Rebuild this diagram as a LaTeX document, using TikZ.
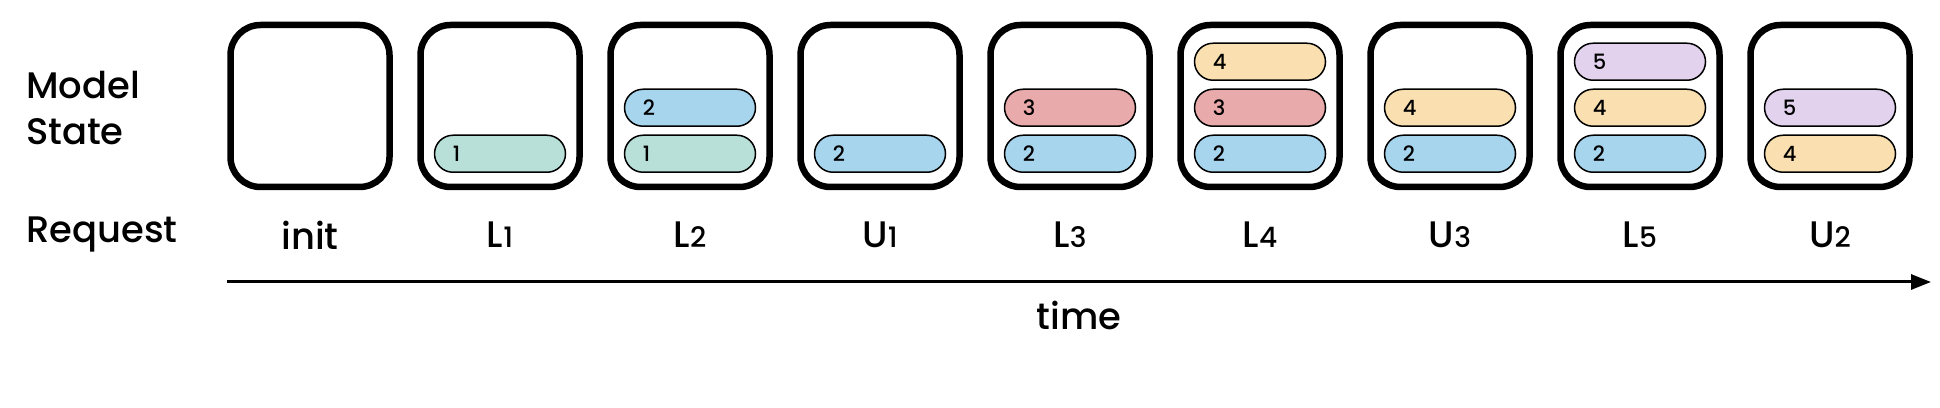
\documentclass[tikz,border=0pt]{standalone}
\usepackage{fontspec}
\setmainfont{Poppins}[UprightFont=* Medium]
\definecolor{xgreen}{HTML}{B8DFD8}
\definecolor{xblue}{HTML}{A8D5EE}
\definecolor{xred}{HTML}{E8AAAA}
\definecolor{xyellow}{HTML}{FAE0B0}
\definecolor{xpurple}{HTML}{E2D2EE}
\newcommand{\sm}[1]{{\fontsize{16}{16}\selectfont #1}}
\usetikzlibrary{shapes.misc,arrows.meta}
\tikzset{
  state/.style={draw, line width=1.3mm, rounded corners=6mm, minimum width=31.8mm, minimum height=32.4mm},
  pill/.style={draw, line width=0.3mm, rounded rectangle, minimum width=26.2mm, minimum height=7.4mm, inner sep=0pt},
  lbl/.style={font=\fontsize{21}{26}\selectfont},
}
\newcommand{\putpill}[4]{% box, row, colour, number
  \node[pill, fill=#3] (p#1r#2) at ([yshift=-8.0mm-(#2-1)*9.2mm]box#1.north) {};
  \node[font=\fontsize{12}{12}\selectfont, anchor=west] (n#1r#2) at ([xshift=2.6mm]p#1r#2.west) {#4};
}
\begin{document}
\begin{tikzpicture}[x=0.2mm, y=-0.2mm]
  \useasboundingbox (0,0) rectangle (1940,408);
  \def \p {190}
  % state boxes and request labels
  \foreach \i/\r in {0/init, 1/L\sm{1}, 2/L\sm{2}, 3/U\sm{1}, 4/L\sm{3}, 5/L\sm{4}, 6/U\sm{3}, 7/L\sm{5}, 8/U\sm{2}} {
    \node[state] (box\i) at (310+\i*\p, 106) {};
    \node[lbl] (req\i) at (310+\i*\p, 235) {\r};
  }
  \node[lbl, anchor=west, align=left] (model) at (20, 108) {Model\\State};
  \node[lbl, anchor=west] (request) at (20, 235) {Request};
  % stacked entries, bottom row = 3
  \putpill{1}{3}{xgreen}{1}
  \putpill{2}{3}{xgreen}{1}
  \putpill{2}{2}{xblue}{2}
  \putpill{3}{3}{xblue}{2}
  \putpill{4}{3}{xblue}{2}
  \putpill{4}{2}{xred}{3}
  \putpill{5}{3}{xblue}{2}
  \putpill{5}{2}{xred}{3}
  \putpill{5}{1}{xyellow}{4}
  \putpill{6}{3}{xblue}{2}
  \putpill{6}{2}{xyellow}{4}
  \putpill{7}{3}{xblue}{2}
  \putpill{7}{2}{xyellow}{4}
  \putpill{7}{1}{xpurple}{5}
  \putpill{8}{3}{xyellow}{4}
  \putpill{8}{2}{xpurple}{5}
  % time axis
  \coordinate (t0) at (227, 282);
  \coordinate (t1) at (1931, 282);
  \draw[line width=0.6mm, -{Stealth[length=4mm, width=3mm, inset=0pt]}] (t0) -- (t1);
  \node[lbl] (time) at (1079, 315) {time};
\end{tikzpicture}
\end{document}
